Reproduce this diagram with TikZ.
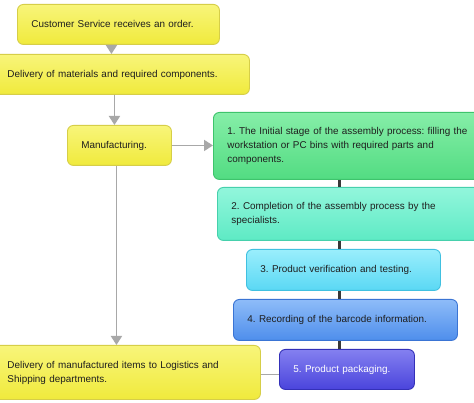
\documentclass[tikz,border=0pt]{standalone}
\usepackage{fontspec}
\setmainfont{Liberation Sans}
\usetikzlibrary{arrows.meta,calc}
\definecolor{txt}{HTML}{1E1E1E}
\definecolor{yelT}{HTML}{F8F57A}\definecolor{yelB}{HTML}{F0EA3C}\definecolor{yelD}{HTML}{D6CE48}
\definecolor{grnT}{HTML}{86EEA8}\definecolor{grnB}{HTML}{52DC82}\definecolor{grnD}{HTML}{3EC46C}
\definecolor{aquT}{HTML}{92F6DC}\definecolor{aquB}{HTML}{5EEAC4}\definecolor{aquD}{HTML}{46D0AC}
\definecolor{cyaT}{HTML}{9AEEFC}\definecolor{cyaB}{HTML}{5AD8F4}\definecolor{cyaD}{HTML}{40C0E0}
\definecolor{bluT}{HTML}{8EBCF8}\definecolor{bluB}{HTML}{4E8EEC}\definecolor{bluD}{HTML}{3A74D4}
\definecolor{purT}{HTML}{8480F0}\definecolor{purB}{HTML}{4A44DC}\definecolor{purD}{HTML}{3430B8}
\definecolor{conn}{HTML}{A8A8A8}
\definecolor{spine}{HTML}{383838}
\frenchspacing
\begin{document}
\begin{tikzpicture}[x=1pt,y=-1pt,
  box/.style={draw, rounded corners=6pt, anchor=north west, inner xsep=14pt, inner ysep=0pt,
    align=left, font=\fontsize{9.9}{14}\selectfont, text=txt, line width=0.9pt},
  yel/.style={top color=yelT, bottom color=yelB, draw=yelD},
  grn/.style={top color=grnT, bottom color=grnB, draw=grnD},
  aqu/.style={top color=aquT, bottom color=aquB, draw=aquD},
  cya/.style={top color=cyaT, bottom color=cyaB, draw=cyaD},
  blu/.style={top color=bluT, bottom color=bluB, draw=bluD},
  pur/.style={top color=purT, bottom color=purB, draw=purD, text=white},
  garrow/.style={draw=conn, line width=1.8pt, -{Triangle[length=9pt,width=11pt]}},
  gline/.style={draw=conn, line width=1.8pt},
  sline/.style={draw=spine, line width=3pt}]
\useasboundingbox (0,0) rectangle (474,403);
\clip (0,0) rectangle (474,403);
\fill[white] (0,0) rectangle (474,403);
\coordinate (sp) at (339,0);
\node[box, yel, text width=174pt, minimum height=40pt] (b1) at (17,4) {Customer Service receives an order.};
\node[box, yel, text width=228pt, minimum height=40pt] (b2) at (-7,54) {Delivery of materials and required components.};
\node[box, yel, text width=76pt, minimum height=40pt] (man) at (67,125) {Manufacturing.};
\node[box, grn, text width=247pt, minimum height=67pt] (a1) at (213,112) {1. The Initial stage of the assembly process: filling the\\workstation or PC bins with required parts and\\components.};
\node[box, aqu, text width=247pt, minimum height=53pt] (a2) at (217,187) {2. Completion of the assembly process by the\\specialists.};
\node[box, cya, text width=166pt, minimum height=41pt] (a3) at (246,249) {3. Product verification and testing.};
\node[box, blu, text width=196pt, minimum height=41pt] (a4) at (233,299) {4. Recording of the barcode information.};
\node[box, pur, text width=107pt, minimum height=40pt] (a5) at (279,349) {5. Product packaging.};
\node[box, yel, text width=239pt, minimum height=54pt] (bb) at (-7,345) {Delivery of manufactured items to Logistics and\\Shipping departments.};
\draw[garrow] ([xshift=-7pt]b1.south) -- ([xshift=-7pt]b1.south |- b2.north);
\draw[garrow] ([xshift=-7pt]b2.south) -- ([xshift=-7pt]b2.south |- man.north);
\draw[garrow] (man.east) -- (man.east -| a1.west);
\draw[garrow] ([xshift=-3pt]man.south) -- ([xshift=-3pt]man.south |- bb.north);
\draw[gline] ([yshift=-2pt]bb.east) -- ([yshift=-2pt]bb.east -| a5.west);
\draw[sline] (a1.south -| sp) -- (a2.north -| sp);
\draw[sline] (a2.south -| sp) -- (a3.north -| sp);
\draw[sline] (a3.south -| sp) -- (a4.north -| sp);
\draw[sline] (a4.south -| sp) -- (a5.north -| sp);
\end{tikzpicture}
\end{document}
